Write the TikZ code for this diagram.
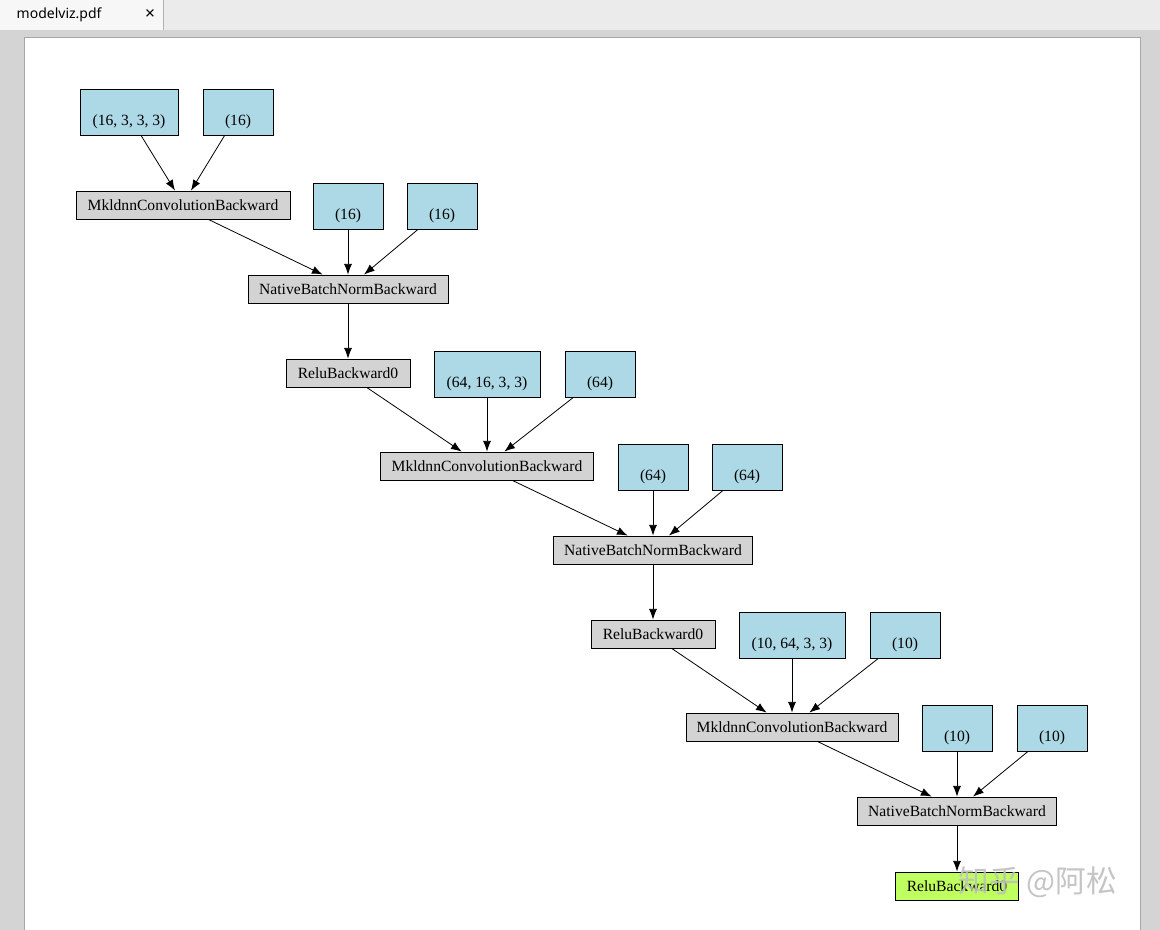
\documentclass[tikz,border=0pt]{standalone}
\usepackage{fontspec}
\setmainfont{Liberation Serif}
\newfontfamily\uisans{Noto Sans}
\newfontfamily\cjk{Noto Sans CJK SC}
\usetikzlibrary{arrows.meta}
\definecolor{lblue}{HTML}{ADD8E6}
\definecolor{lgray}{HTML}{D3D3D3}
\definecolor{lgreen}{HTML}{C0FF60}
\begin{document}
\begin{tikzpicture}[x=0.75pt,y=-0.75pt,
  box/.style={draw=black,line width=0.6pt,inner sep=0pt,font=\fontsize{11.7}{13}\selectfont},
  bl/.style={box,fill=lblue,minimum height=34.5pt,text height=20pt,text depth=0pt},
  gr/.style={box,fill=lgray,minimum height=21pt},
  arr/.style={-{Latex[length=8pt,width=6pt]},line width=0.6pt}]
\useasboundingbox (0,0) rectangle (1160,930);
\fill[black!17] (0,0) rectangle (1160,930);
\fill[black!8] (0,0) rectangle (1160,30);
\fill[white!97!black] (0,0) rectangle (163,30);
\draw[black!30] (163,0) -- (163,30);
\node[font=\uisans\fontsize{10.5}{12}\selectfont,anchor=west] (tab) at (12,15) {modelviz.pdf};
\node[font=\uisans\fontsize{13}{14}\selectfont] (x) at (150,15) {×};
\draw[black!35,fill=white] (24,37) rectangle (1140,935);
\node[bl,minimum width=73.5pt] (b1) at (129,112) {(16, 3, 3, 3)};
\node[bl,minimum width=52.5pt] (b2) at (238,112) {(16)};
\node[gr,minimum width=160.5pt] (g1) at (183,205) {MkldnnConvolutionBackward};
\node[bl,minimum width=52.5pt] (b3) at (348,206) {(16)};
\node[bl,minimum width=52.5pt] (b4) at (442,206) {(16)};
\node[gr,minimum width=150pt] (g2) at (348,289) {NativeBatchNormBackward};
\node[gr,minimum width=93pt] (g3) at (348,373) {ReluBackward0};
\node[bl,minimum width=79.5pt] (b5) at (487,374) {(64, 16, 3, 3)};
\node[bl,minimum width=52.5pt] (b6) at (600,374) {(64)};
\node[gr,minimum width=160pt] (g4) at (487,466) {MkldnnConvolutionBackward};
\node[bl,minimum width=52.5pt] (b7) at (653,467) {(64)};
\node[bl,minimum width=52.5pt] (b8) at (747,467) {(64)};
\node[gr,minimum width=149pt] (g5) at (653,550) {NativeBatchNormBackward};
\node[gr,minimum width=93pt] (g6) at (653,634) {ReluBackward0};
\node[bl,minimum width=79.5pt] (b9) at (792,635) {(10, 64, 3, 3)};
\node[bl,minimum width=52.5pt] (b10) at (905,635) {(10)};
\node[gr,minimum width=159pt] (g7) at (792,727) {MkldnnConvolutionBackward};
\node[bl,minimum width=52.5pt] (b11) at (957,728) {(10)};
\node[bl,minimum width=52.5pt] (b12) at (1052,728) {(10)};
\node[gr,minimum width=149pt] (g8) at (957,811) {NativeBatchNormBackward};
\node[gr,fill=lgreen,minimum width=92pt] (g9) at (957,886) {ReluBackward0};
\draw[arr] ([xshift=9pt]b1.south) -- ([xshift=-6pt]g1.north);
\draw[arr] ([xshift=-10pt]b2.south) -- ([xshift=6pt]g1.north);
\draw[arr] ([xshift=19pt]g1.south) -- ([xshift=-19pt]g2.north);
\draw[arr] (b3.south) -- (g2.north);
\draw[arr] ([xshift=-18pt]b4.south) -- ([xshift=12pt]g2.north);
\draw[arr] (g2.south) -- (g3.north);
\draw[arr] ([xshift=14pt]g3.south) -- ([xshift=-19pt]g4.north);
\draw[arr] (b5.south) -- (g4.north);
\draw[arr] ([xshift=-20pt]b6.south) -- ([xshift=13pt]g4.north);
\draw[arr] ([xshift=19pt]g4.south) -- ([xshift=-19pt]g5.north);
\draw[arr] (b7.south) -- (g5.north);
\draw[arr] ([xshift=-18pt]b8.south) -- ([xshift=12pt]g5.north);
\draw[arr] (g5.south) -- (g6.north);
\draw[arr] ([xshift=14pt]g6.south) -- ([xshift=-19pt]g7.north);
\draw[arr] (b9.south) -- (g7.north);
\draw[arr] ([xshift=-20pt]b10.south) -- ([xshift=13pt]g7.north);
\draw[arr] ([xshift=19pt]g7.south) -- ([xshift=-19pt]g8.north);
\draw[arr] (b11.south) -- (g8.north);
\draw[arr] ([xshift=-18pt]b12.south) -- ([xshift=12pt]g8.north);
\draw[arr] (g8.south) -- (g9.north);
\node[font=\cjk\fontsize{23}{25}\selectfont,text=black!25,opacity=0.9] (wm) at (1038,882) {知乎 @阿松};
\end{tikzpicture}
\end{document}
